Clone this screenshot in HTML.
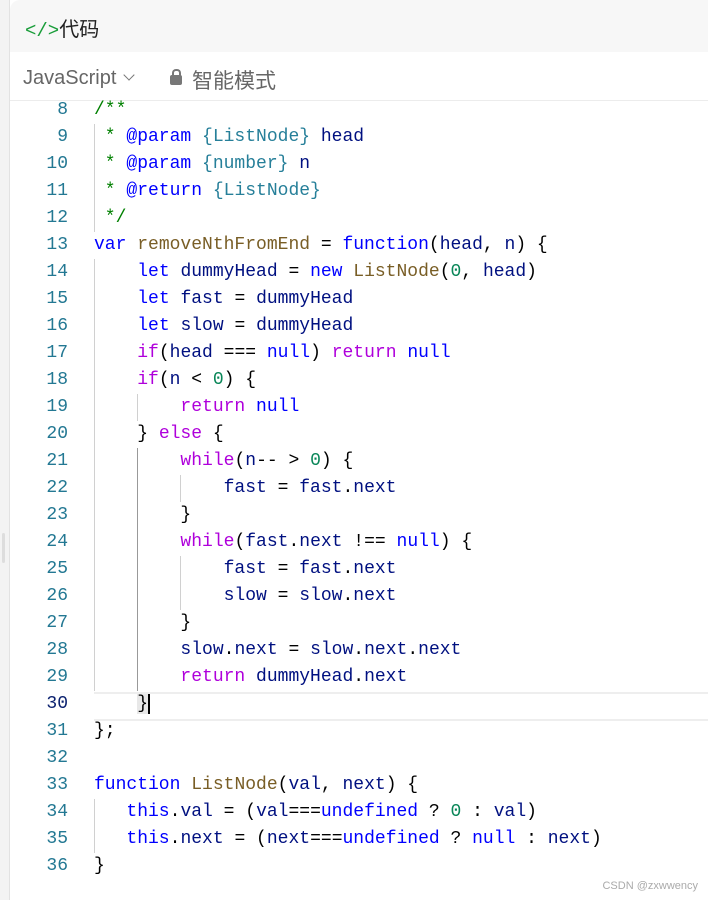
<!DOCTYPE html>
<html><head><meta charset="utf-8"><style>
html,body{margin:0;padding:0;width:708px;height:900px;overflow:hidden;background:#fff;}
body{position:relative;font-family:"Liberation Sans","Noto Sans CJK SC",sans-serif;}
.strip{position:absolute;left:0;top:0;width:9px;height:900px;background:#f3f3f3;border-right:1px solid #e2e2e2;}
.sb{position:absolute;left:2px;top:533px;width:3px;height:30px;background:#ddd;border-radius:2px;}
.hdr{position:absolute;left:10px;top:0;width:698px;height:52px;background:#f7f7f7;border-top-left-radius:10px;}
.hdr .t{position:absolute;left:15px;top:13px;font-size:20px;color:#222;}
.hdr .t b{color:#1a9d3a;font-weight:normal;font-family:"Liberation Mono",monospace;font-size:19px;}
.tb{position:absolute;left:10px;top:52px;width:698px;height:48px;background:#fff;border-bottom:1px solid #ececec;}
.tb .js{position:absolute;left:13px;top:15px;font-size:20px;color:#666;}
.tb .chev{position:absolute;left:115px;top:19px;width:7px;height:7px;border-right:1.5px solid #777;border-bottom:1.5px solid #777;transform:rotate(45deg);}
.tb .lock{position:absolute;left:160px;width:12px;height:10px;background:#777;border-radius:2px;top:23px;}
.tb .lock:before{content:"";position:absolute;left:2px;top:-6px;width:5px;height:6px;border:2px solid #777;border-bottom:none;border-radius:4px 4px 0 0;}
.tb .mode{position:absolute;left:182px;top:13px;font-size:21px;color:#666;}
.code{position:absolute;left:0;top:97px;font-family:"Liberation Mono",monospace;font-size:18px;}
.l{position:absolute;height:27px;line-height:27px;white-space:pre;}
.n{position:absolute;width:68px;text-align:right;left:0;height:27px;line-height:27px;color:#237893;font-family:"Liberation Mono",monospace;}
.c{left:94px;color:#000;}
.k{color:#0000ff}.p{color:#af00db}.f{color:#795e26}.cm{color:#008000}.ty{color:#267f99}.v{color:#001080}.num{color:#098658}.at{color:#0000ff}
.g{position:absolute;width:1px;background:#d0d0d0;}
.cur{position:absolute;left:94px;top:692px;width:614px;height:25px;border-top:2px solid #eee;border-bottom:2px solid #eee;}
.wm{position:absolute;right:10px;top:880px;font-size:11px;color:#aaa;}
</style></head><body>
<div class="strip"></div><div class="sb"></div>
<div class="hdr"><div class="t"><b>&lt;/&gt;</b>代码</div></div>
<div class="tb"><div class="js">JavaScript</div><div class="chev"></div><div class="lock"></div><div class="mode">智能模式</div></div>
<div class="cur"></div>
<div class="g" style="left:94px;top:124px;height:108px"></div>
<div class="g" style="left:94px;top:259px;height:432px"></div>
<div class="g" style="left:137px;top:394px;height:27px"></div>
<div class="g" style="left:137px;top:448px;height:243px;background:#999"></div>
<div class="g" style="left:180px;top:475px;height:27px"></div>
<div class="g" style="left:180px;top:556px;height:54px"></div>
<div class="g" style="left:94px;top:799px;height:54px"></div>
<div class="code">
<div class="n" style="top:0">8</div><div class="l c" style="top:0"><span class="cm">/**</span></div>
<div class="n" style="top:27px">9</div><div class="l c" style="top:27px"><span class="cm"> * </span><span class="at">@param</span> <span class="ty">{ListNode}</span> <span class="v">head</span></div>
<div class="n" style="top:54px">10</div><div class="l c" style="top:54px"><span class="cm"> * </span><span class="at">@param</span> <span class="ty">{number}</span> <span class="v">n</span></div>
<div class="n" style="top:81px">11</div><div class="l c" style="top:81px"><span class="cm"> * </span><span class="at">@return</span> <span class="ty">{ListNode}</span></div>
<div class="n" style="top:108px">12</div><div class="l c" style="top:108px"><span class="cm"> */</span></div>
<div class="n" style="top:135px">13</div><div class="l c" style="top:135px"><span class="k">var</span> <span class="f">removeNthFromEnd</span> = <span class="k">function</span>(<span class="v">head</span>, <span class="v">n</span>) {</div>
<div class="n" style="top:162px">14</div><div class="l c" style="top:162px">    <span class="k">let</span> <span class="v">dummyHead</span> = <span class="k">new</span> <span class="f">ListNode</span>(<span class="num">0</span>, <span class="v">head</span>)</div>
<div class="n" style="top:189px">15</div><div class="l c" style="top:189px">    <span class="k">let</span> <span class="v">fast</span> = <span class="v">dummyHead</span></div>
<div class="n" style="top:216px">16</div><div class="l c" style="top:216px">    <span class="k">let</span> <span class="v">slow</span> = <span class="v">dummyHead</span></div>
<div class="n" style="top:243px">17</div><div class="l c" style="top:243px">    <span class="p">if</span>(<span class="v">head</span> === <span class="k">null</span>) <span class="p">return</span> <span class="k">null</span></div>
<div class="n" style="top:270px">18</div><div class="l c" style="top:270px">    <span class="p">if</span>(<span class="v">n</span> &lt; <span class="num">0</span>) {</div>
<div class="n" style="top:297px">19</div><div class="l c" style="top:297px">        <span class="p">return</span> <span class="k">null</span></div>
<div class="n" style="top:324px">20</div><div class="l c" style="top:324px">    } <span class="p">else</span> {</div>
<div class="n" style="top:351px">21</div><div class="l c" style="top:351px">        <span class="p">while</span>(<span class="v">n</span>-- &gt; <span class="num">0</span>) {</div>
<div class="n" style="top:378px">22</div><div class="l c" style="top:378px">            <span class="v">fast</span> = <span class="v">fast</span>.<span class="v">next</span></div>
<div class="n" style="top:405px">23</div><div class="l c" style="top:405px">        }</div>
<div class="n" style="top:432px">24</div><div class="l c" style="top:432px">        <span class="p">while</span>(<span class="v">fast</span>.<span class="v">next</span> !== <span class="k">null</span>) {</div>
<div class="n" style="top:459px">25</div><div class="l c" style="top:459px">            <span class="v">fast</span> = <span class="v">fast</span>.<span class="v">next</span></div>
<div class="n" style="top:486px">26</div><div class="l c" style="top:486px">            <span class="v">slow</span> = <span class="v">slow</span>.<span class="v">next</span></div>
<div class="n" style="top:513px">27</div><div class="l c" style="top:513px">        }</div>
<div class="n" style="top:540px">28</div><div class="l c" style="top:540px">        <span class="v">slow</span>.<span class="v">next</span> = <span class="v">slow</span>.<span class="v">next</span>.<span class="v">next</span></div>
<div class="n" style="top:567px">29</div><div class="l c" style="top:567px">        <span class="p">return</span> <span class="v">dummyHead</span>.<span class="v">next</span></div>
<div class="n" style="top:594px;color:#0b216f">30</div><div class="l c" style="top:594px">    <span style="background:#e8e8e8;border-right:2px solid #000">}</span></div>
<div class="n" style="top:621px">31</div><div class="l c" style="top:621px">};</div>
<div class="n" style="top:648px">32</div>
<div class="n" style="top:675px">33</div><div class="l c" style="top:675px"><span class="k">function</span> <span class="f">ListNode</span>(<span class="v">val</span>, <span class="v">next</span>) {</div>
<div class="n" style="top:702px">34</div><div class="l c" style="top:702px">   <span class="k">this</span>.<span class="v">val</span> = (<span class="v">val</span>===<span class="k">undefined</span> ? <span class="num">0</span> : <span class="v">val</span>)</div>
<div class="n" style="top:729px">35</div><div class="l c" style="top:729px">   <span class="k">this</span>.<span class="v">next</span> = (<span class="v">next</span>===<span class="k">undefined</span> ? <span class="k">null</span> : <span class="v">next</span>)</div>
<div class="n" style="top:756px">36</div><div class="l c" style="top:756px">}</div>
</div>
<div class="wm">CSDN @zxwwency</div>
</body></html>
